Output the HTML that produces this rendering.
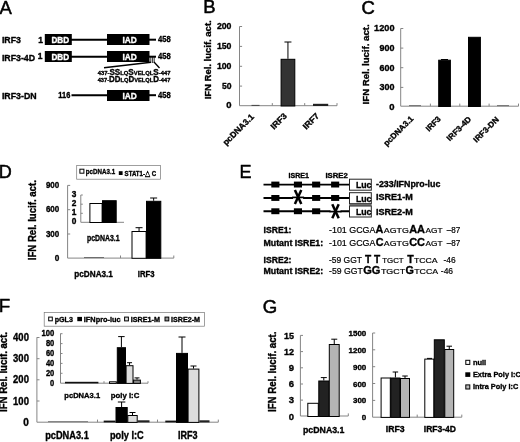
<!DOCTYPE html>
<html><head><meta charset="utf-8"><title>Figure</title>
<style>
html,body{margin:0;padding:0;background:#fff;}
body{width:520px;height:442px;overflow:hidden;}
text{stroke-width:0.35px;stroke-linejoin:round;}
svg{filter:blur(0.3px);display:block;font-family:"Liberation Sans","DejaVu Sans",sans-serif;}
</style></head><body>
<svg width="520" height="442" viewBox="0 0 520 442">
<rect x="0" y="0" width="520" height="442" fill="#fff"/>
<text x="-0.5" y="13.5" font-size="18.5" font-weight="normal" text-anchor="start" fill="#000" stroke="#000" style="stroke-width:0.5px">A</text>
<text x="203.2" y="12.6" font-size="18.5" font-weight="normal" text-anchor="start" fill="#000" stroke="#000" style="stroke-width:0.5px">B</text>
<text x="361.4" y="13.8" font-size="18.5" font-weight="normal" text-anchor="start" fill="#000" stroke="#000" style="stroke-width:0.5px">C</text>
<text x="-1.2" y="177.6" font-size="18" font-weight="normal" text-anchor="start" fill="#000" stroke="#000" style="stroke-width:0.5px">D</text>
<text x="239.6" y="177.5" font-size="18" font-weight="normal" text-anchor="start" fill="#000" stroke="#000" style="stroke-width:0.5px">E</text>
<text x="-1.3" y="312" font-size="18.8" font-weight="normal" text-anchor="start" fill="#000" stroke="#000" style="stroke-width:0.5px">F</text>
<text x="262.7" y="312.6" font-size="18.6" font-weight="normal" text-anchor="start" fill="#000" stroke="#000" style="stroke-width:0.5px">G</text>
<text x="1.9" y="43.2" font-size="9.4" font-weight="bold" text-anchor="start" fill="#000" stroke="#000" textLength="19" lengthAdjust="spacingAndGlyphs" >IRF3</text>
<text x="1.9" y="61" font-size="9.4" font-weight="bold" text-anchor="start" fill="#000" stroke="#000" textLength="33.2" lengthAdjust="spacingAndGlyphs" >IRF3-4D</text>
<text x="1.9" y="98.9" font-size="9.4" font-weight="bold" text-anchor="start" fill="#000" stroke="#000" textLength="34.7" lengthAdjust="spacingAndGlyphs" >IRF3-DN</text>
<text x="38.2" y="43" font-size="8.5" font-weight="bold" text-anchor="start" fill="#000" stroke="#000" >1</text>
<text x="37.8" y="58.6" font-size="8.5" font-weight="bold" text-anchor="start" fill="#000" stroke="#000" >1</text>
<line x1="71" y1="39.7" x2="108" y2="39.7" stroke="#000" stroke-width="2"/>
<rect x="44.8" y="34" width="27.0" height="11" fill="#000"/>
<text x="60.3" y="42.9" font-size="9" font-weight="bold" text-anchor="middle" fill="#fff" stroke="#fff" textLength="17.7" lengthAdjust="spacingAndGlyphs" >DBD</text>
<line x1="71" y1="56.7" x2="108" y2="56.7" stroke="#000" stroke-width="2"/>
<rect x="44.8" y="51" width="27.0" height="11" fill="#000"/>
<text x="60.3" y="59.9" font-size="9" font-weight="bold" text-anchor="middle" fill="#fff" stroke="#fff" textLength="17.7" lengthAdjust="spacingAndGlyphs" >DBD</text>
<rect x="107" y="34" width="42.5" height="11" fill="#000"/>
<text x="129.7" y="42.9" font-size="9" font-weight="bold" text-anchor="middle" fill="#fff" stroke="#fff" textLength="14.3" lengthAdjust="spacingAndGlyphs" >IAD</text>
<line x1="149" y1="39.7" x2="156" y2="39.7" stroke="#000" stroke-width="2"/>
<text x="158" y="41.6" font-size="8.7" font-weight="bold" text-anchor="start" fill="#000" stroke="#000" textLength="12.7" lengthAdjust="spacingAndGlyphs" >458</text>
<rect x="107" y="51" width="42.5" height="11" fill="#000"/>
<text x="129.7" y="59.9" font-size="9" font-weight="bold" text-anchor="middle" fill="#fff" stroke="#fff" textLength="14.3" lengthAdjust="spacingAndGlyphs" >IAD</text>
<line x1="149" y1="56.7" x2="156" y2="56.7" stroke="#000" stroke-width="2"/>
<text x="158" y="58.6" font-size="8.7" font-weight="bold" text-anchor="start" fill="#000" stroke="#000" textLength="12.7" lengthAdjust="spacingAndGlyphs" >458</text>
<rect x="107" y="90" width="42.5" height="11" fill="#000"/>
<text x="129.7" y="98.9" font-size="9" font-weight="bold" text-anchor="middle" fill="#fff" stroke="#fff" textLength="14.3" lengthAdjust="spacingAndGlyphs" >IAD</text>
<line x1="149" y1="95.2" x2="156" y2="95.2" stroke="#000" stroke-width="2"/>
<text x="158" y="97.6" font-size="8.7" font-weight="bold" text-anchor="start" fill="#000" stroke="#000" textLength="12.7" lengthAdjust="spacingAndGlyphs" >458</text>
<line x1="71.5" y1="95.2" x2="108" y2="95.2" stroke="#000" stroke-width="2"/>
<text x="58.3" y="98.3" font-size="8.5" font-weight="bold" text-anchor="start" fill="#000" stroke="#000" textLength="12" lengthAdjust="spacingAndGlyphs" >116</text>
<line x1="150.8" y1="57" x2="150.8" y2="63" stroke="#000" stroke-width="0.8"/>
<line x1="152.6" y1="57" x2="152.6" y2="63" stroke="#000" stroke-width="0.8"/>
<line x1="154.2" y1="57" x2="154.2" y2="63" stroke="#000" stroke-width="0.8"/>
<line x1="151" y1="62.2" x2="104" y2="67.8" stroke="#000" stroke-width="1.4"/>
<line x1="154" y1="62" x2="159.5" y2="68" stroke="#000" stroke-width="1.3"/>
<text x="97.7" y="74.6" stroke="#000" font-weight="bold" font-size="6.2" textLength="72.7" lengthAdjust="spacingAndGlyphs">437-<tspan font-size="8.6">SS</tspan>LQ<tspan font-size="8.6">S</tspan>VELQL<tspan font-size="8.6">S</tspan>-447</text>
<text x="97.7" y="82.1" stroke="#000" font-weight="bold" font-size="6.2" textLength="72.7" lengthAdjust="spacingAndGlyphs">437-<tspan font-size="8.6">DD</tspan>LQ<tspan font-size="8.6">D</tspan>VELQL<tspan font-size="8.6">D</tspan>-447</text>
<line x1="239.5" y1="26.5" x2="239.5" y2="105.7" stroke="#858585" stroke-width="1"/>
<line x1="239.5" y1="105.7" x2="337" y2="105.7" stroke="#858585" stroke-width="1"/>
<line x1="239.5" y1="26.5" x2="242.1" y2="26.5" stroke="#858585" stroke-width="1"/>
<line x1="239.5" y1="46.4" x2="242.1" y2="46.4" stroke="#858585" stroke-width="1"/>
<line x1="239.5" y1="66.3" x2="242.1" y2="66.3" stroke="#858585" stroke-width="1"/>
<line x1="239.5" y1="86.1" x2="242.1" y2="86.1" stroke="#858585" stroke-width="1"/>
<line x1="272.3" y1="105.7" x2="272.3" y2="103.10000000000001" stroke="#858585" stroke-width="1"/>
<line x1="304.7" y1="105.7" x2="304.7" y2="103.10000000000001" stroke="#858585" stroke-width="1"/>
<line x1="337" y1="105.7" x2="337" y2="103.10000000000001" stroke="#858585" stroke-width="1"/>
<text x="231.5" y="28.9" font-size="9.5" font-weight="bold" text-anchor="end" fill="#000" stroke="#000" textLength="14.6" lengthAdjust="spacingAndGlyphs" >200</text>
<text x="231.5" y="48.8" font-size="9.5" font-weight="bold" text-anchor="end" fill="#000" stroke="#000" textLength="14.6" lengthAdjust="spacingAndGlyphs" >150</text>
<text x="231.5" y="68.7" font-size="9.5" font-weight="bold" text-anchor="end" fill="#000" stroke="#000" textLength="14.6" lengthAdjust="spacingAndGlyphs" >100</text>
<text x="231.5" y="88.5" font-size="9.5" font-weight="bold" text-anchor="end" fill="#000" stroke="#000" textLength="9.6" lengthAdjust="spacingAndGlyphs" >50</text>
<text x="231.5" y="108.4" font-size="9.5" font-weight="bold" text-anchor="end" fill="#000" stroke="#000" >0</text>
<text x="211.2" y="59.8" font-size="9.7" font-weight="bold" text-anchor="middle" fill="#000" stroke="#000" textLength="79" lengthAdjust="spacingAndGlyphs" transform="rotate(-90 211.2 59.8)" >IFN Rel. lucif. act.</text>
<rect x="281.1" y="59.3" width="13.7" height="46.7" fill="#333" stroke="#000" stroke-width="1"/>
<line x1="287.95000000000005" y1="42" x2="287.95000000000005" y2="58.8" stroke="#000" stroke-width="1"/>
<line x1="284.45000000000005" y1="42" x2="291.45000000000005" y2="42" stroke="#000" stroke-width="1"/>
<rect x="313" y="103.8" width="15.2" height="2.2" fill="#222"/>
<line x1="251.5" y1="105.4" x2="259.5" y2="105.4" stroke="#444" stroke-width="1"/>
<text x="254.5" y="117.5" font-size="8.5" font-weight="bold" text-anchor="end" fill="#000" stroke="#000" textLength="40" lengthAdjust="spacingAndGlyphs" transform="rotate(-45 254.5 117.5)" >pcDNA3.1</text>
<text x="287.5" y="116.5" font-size="8.5" font-weight="bold" text-anchor="end" fill="#000" stroke="#000" textLength="19" lengthAdjust="spacingAndGlyphs" transform="rotate(-45 287.5 116.5)" >IRF3</text>
<text x="319.8" y="116.5" font-size="8.5" font-weight="bold" text-anchor="end" fill="#000" stroke="#000" textLength="19" lengthAdjust="spacingAndGlyphs" transform="rotate(-45 319.8 116.5)" >IRF7</text>
<line x1="400.7" y1="28.5" x2="400.7" y2="106.2" stroke="#858585" stroke-width="1"/>
<line x1="400.7" y1="106.2" x2="518.5" y2="106.2" stroke="#858585" stroke-width="1"/>
<line x1="400.7" y1="28.5" x2="403.3" y2="28.5" stroke="#858585" stroke-width="1"/>
<line x1="400.7" y1="48.1" x2="403.3" y2="48.1" stroke="#858585" stroke-width="1"/>
<line x1="400.7" y1="67.7" x2="403.3" y2="67.7" stroke="#858585" stroke-width="1"/>
<line x1="400.7" y1="87.4" x2="403.3" y2="87.4" stroke="#858585" stroke-width="1"/>
<line x1="430.4" y1="106.2" x2="430.4" y2="103.60000000000001" stroke="#858585" stroke-width="1"/>
<line x1="459.8" y1="106.2" x2="459.8" y2="103.60000000000001" stroke="#858585" stroke-width="1"/>
<line x1="489.1" y1="106.2" x2="489.1" y2="103.60000000000001" stroke="#858585" stroke-width="1"/>
<line x1="518.5" y1="106.2" x2="518.5" y2="103.60000000000001" stroke="#858585" stroke-width="1"/>
<text x="394.5" y="31.4" font-size="9.5" font-weight="bold" text-anchor="end" fill="#000" stroke="#000" textLength="20.4" lengthAdjust="spacingAndGlyphs" >1200</text>
<text x="394.5" y="51.0" font-size="9.5" font-weight="bold" text-anchor="end" fill="#000" stroke="#000" textLength="15" lengthAdjust="spacingAndGlyphs" >900</text>
<text x="394.5" y="70.60000000000001" font-size="9.5" font-weight="bold" text-anchor="end" fill="#000" stroke="#000" textLength="15" lengthAdjust="spacingAndGlyphs" >600</text>
<text x="394.5" y="90.30000000000001" font-size="9.5" font-weight="bold" text-anchor="end" fill="#000" stroke="#000" textLength="15" lengthAdjust="spacingAndGlyphs" >300</text>
<text x="394.5" y="109.9" font-size="9.5" font-weight="bold" text-anchor="end" fill="#000" stroke="#000" >0</text>
<text x="369" y="64.4" font-size="9.6" font-weight="bold" text-anchor="middle" fill="#000" stroke="#000" textLength="80" lengthAdjust="spacingAndGlyphs" transform="rotate(-90 369 64.4)" >IFN Rel. lucif. act.</text>
<rect x="438.7" y="60.2" width="11.7" height="46.3" fill="#000" stroke="#000" stroke-width="1"/>
<line x1="441" y1="59.5" x2="448" y2="59.5" stroke="#000" stroke-width="1"/>
<rect x="468.5" y="37.3" width="11.9" height="69.2" fill="#000" stroke="#000" stroke-width="1"/>
<line x1="409" y1="105.6" x2="421" y2="105.6" stroke="#555" stroke-width="0.8"/>
<line x1="497" y1="105.6" x2="509" y2="105.6" stroke="#555" stroke-width="0.8"/>
<text x="414" y="119.3" font-size="8" font-weight="bold" text-anchor="end" fill="#000" stroke="#000" textLength="38.5" lengthAdjust="spacingAndGlyphs" transform="rotate(-45 414 119.3)" >pcDNA3.1</text>
<text x="441.3" y="119.5" font-size="8" font-weight="bold" text-anchor="end" fill="#000" stroke="#000" textLength="17.5" lengthAdjust="spacingAndGlyphs" transform="rotate(-45 441.3 119.5)" >IRF3</text>
<text x="471.8" y="119.7" font-size="8" font-weight="bold" text-anchor="end" fill="#000" stroke="#000" textLength="31" lengthAdjust="spacingAndGlyphs" transform="rotate(-45 471.8 119.7)" >IRF3-4D</text>
<text x="499.5" y="120" font-size="8" font-weight="bold" text-anchor="end" fill="#000" stroke="#000" textLength="32.5" lengthAdjust="spacingAndGlyphs" transform="rotate(-45 499.5 120)" >IRF3-DN</text>
<line x1="67.6" y1="185.4" x2="67.6" y2="258.1" stroke="#858585" stroke-width="1"/>
<line x1="67.6" y1="258.1" x2="173.8" y2="258.1" stroke="#858585" stroke-width="1"/>
<line x1="67.6" y1="185.4" x2="70.19999999999999" y2="185.4" stroke="#858585" stroke-width="1"/>
<line x1="67.6" y1="209.7" x2="70.19999999999999" y2="209.7" stroke="#858585" stroke-width="1"/>
<line x1="67.6" y1="234" x2="70.19999999999999" y2="234" stroke="#858585" stroke-width="1"/>
<line x1="120.5" y1="258.1" x2="120.5" y2="255.50000000000003" stroke="#858585" stroke-width="1"/>
<line x1="173.8" y1="258.1" x2="173.8" y2="255.50000000000003" stroke="#858585" stroke-width="1"/>
<text x="59.3" y="188.1" font-size="9.2" font-weight="bold" text-anchor="end" fill="#000" stroke="#000" textLength="13.4" lengthAdjust="spacingAndGlyphs" >900</text>
<text x="59.3" y="212.39999999999998" font-size="9.2" font-weight="bold" text-anchor="end" fill="#000" stroke="#000" textLength="13.4" lengthAdjust="spacingAndGlyphs" >600</text>
<text x="59.3" y="236.7" font-size="9.2" font-weight="bold" text-anchor="end" fill="#000" stroke="#000" textLength="13.4" lengthAdjust="spacingAndGlyphs" >300</text>
<text x="59.3" y="261.0" font-size="9.2" font-weight="bold" text-anchor="end" fill="#000" stroke="#000" textLength="4.6" lengthAdjust="spacingAndGlyphs" >0</text>
<text x="36" y="220.2" font-size="10.3" font-weight="bold" text-anchor="middle" fill="#000" stroke="#000" textLength="80" lengthAdjust="spacingAndGlyphs" transform="rotate(-90 36 220.2)" >IFN Rel. lucif. act.</text>
<rect x="76.7" y="165.4" width="83.7" height="13.8" fill="#fff" stroke="#777" stroke-width="0.7"/>
<rect x="79.9" y="169.2" width="4.0" height="4.0" fill="#fff" stroke="#000" stroke-width="1"/>
<text x="85.8" y="173.9" font-size="7.8" font-weight="bold" text-anchor="start" fill="#000" stroke="#000" textLength="29.3" lengthAdjust="spacingAndGlyphs" >pcDNA3.1</text>
<rect x="118.8" y="171.2" width="3.8" height="3.8" fill="#000"/>
<text x="124.6" y="176.4" stroke="#000" font-weight="bold" font-size="7.2" textLength="31.6" lengthAdjust="spacingAndGlyphs">STAT1-<tspan font-weight="normal" font-size="8">△</tspan> C</text>
<line x1="80.8" y1="195" x2="80.8" y2="222.3" stroke="#858585" stroke-width="1"/>
<line x1="80.8" y1="222.3" x2="124" y2="222.3" stroke="#858585" stroke-width="1"/>
<line x1="80.8" y1="195" x2="82.8" y2="195" stroke="#858585" stroke-width="1"/>
<line x1="80.8" y1="204.2" x2="82.8" y2="204.2" stroke="#858585" stroke-width="1"/>
<line x1="80.8" y1="213.3" x2="82.8" y2="213.3" stroke="#858585" stroke-width="1"/>
<text x="76.3" y="196.6" font-size="8.3" font-weight="bold" text-anchor="end" fill="#000" stroke="#000" >3</text>
<text x="76.3" y="205.79999999999998" font-size="8.3" font-weight="bold" text-anchor="end" fill="#000" stroke="#000" >2</text>
<text x="76.3" y="214.9" font-size="8.3" font-weight="bold" text-anchor="end" fill="#000" stroke="#000" >1</text>
<text x="76.3" y="224.1" font-size="8.3" font-weight="bold" text-anchor="end" fill="#000" stroke="#000" >0</text>
<rect x="89.9" y="203.5" width="12.2" height="19.0" fill="#fff" stroke="#000" stroke-width="1"/>
<rect x="102.5" y="200.7" width="13.7" height="21.8" fill="#000" stroke="#000" stroke-width="1"/>
<text x="87" y="240.9" font-size="8.3" font-weight="bold" text-anchor="start" fill="#000" stroke="#000" textLength="32.6" lengthAdjust="spacingAndGlyphs" >pcDNA3.1</text>
<rect x="132.0" y="231.5" width="14.1" height="26.8" fill="#fff" stroke="#000" stroke-width="1"/>
<line x1="139.05" y1="227.7" x2="139.05" y2="231" stroke="#000" stroke-width="1"/>
<line x1="135.55" y1="227.7" x2="142.55" y2="227.7" stroke="#000" stroke-width="1"/>
<rect x="146.5" y="201.3" width="14.3" height="57.0" fill="#000" stroke="#000" stroke-width="1"/>
<line x1="153.65" y1="198" x2="153.65" y2="200.8" stroke="#000" stroke-width="1"/>
<line x1="150.15" y1="198" x2="157.15" y2="198" stroke="#000" stroke-width="1"/>
<text x="74.3" y="276.8" font-size="9.2" font-weight="bold" text-anchor="start" fill="#000" stroke="#000" textLength="38.6" lengthAdjust="spacingAndGlyphs" >pcDNA3.1</text>
<line x1="84" y1="257.5" x2="104" y2="257.5" stroke="#555" stroke-width="0.8"/>
<text x="137.8" y="276.8" font-size="9.2" font-weight="bold" text-anchor="start" fill="#000" stroke="#000" textLength="16.7" lengthAdjust="spacingAndGlyphs" >IRF3</text>
<text x="288.5" y="178.3" font-size="7.5" font-weight="bold" text-anchor="start" fill="#000" stroke="#000" textLength="20.5" lengthAdjust="spacingAndGlyphs" >ISRE1</text>
<text x="325.4" y="177.8" font-size="7.5" font-weight="bold" text-anchor="start" fill="#000" stroke="#000" textLength="22.5" lengthAdjust="spacingAndGlyphs" >ISRE2</text>
<line x1="263.5" y1="184.6" x2="349.5" y2="184.6" stroke="#000" stroke-width="1.9"/>
<rect x="271.3" y="181.6" width="8.1" height="5.9" fill="#000"/>
<rect x="293.9" y="181.6" width="8.1" height="5.9" fill="#000"/>
<rect x="312.1" y="181.6" width="8.1" height="5.9" fill="#000"/>
<rect x="331.1" y="181.6" width="8.1" height="5.9" fill="#000"/>
<rect x="349.5" y="179.2" width="21.8" height="11.0" fill="#fff" stroke="#222" stroke-width="1"/>
<text x="371.4" y="188.0" font-size="9.5" font-weight="bold" text-anchor="end" fill="#000" stroke="#000" textLength="15.5" lengthAdjust="spacingAndGlyphs" >Luc</text>
<line x1="263.5" y1="198" x2="349.5" y2="198" stroke="#000" stroke-width="1.9"/>
<rect x="271.3" y="195" width="8.1" height="5.9" fill="#000"/>
<rect x="293.9" y="195" width="8.1" height="5.9" fill="#000"/>
<rect x="312.1" y="195" width="8.1" height="5.9" fill="#000"/>
<rect x="331.1" y="195" width="8.1" height="5.9" fill="#000"/>
<rect x="349.2" y="203.6" width="22.4" height="2.3" fill="#808080"/>
<rect x="349.5" y="192.7" width="21.8" height="11.0" fill="#fff" stroke="#222" stroke-width="1"/>
<text x="371.4" y="201.5" font-size="9.5" font-weight="bold" text-anchor="end" fill="#000" stroke="#000" textLength="15.5" lengthAdjust="spacingAndGlyphs" >Luc</text>
<line x1="263.5" y1="211.3" x2="349.5" y2="211.3" stroke="#000" stroke-width="1.9"/>
<rect x="271.3" y="208.3" width="8.1" height="5.9" fill="#000"/>
<rect x="293.9" y="208.3" width="8.1" height="5.9" fill="#000"/>
<rect x="312.1" y="208.3" width="8.1" height="5.9" fill="#000"/>
<rect x="331.1" y="208.3" width="8.1" height="5.9" fill="#000"/>
<rect x="349.5" y="206" width="21.8" height="11" fill="#fff" stroke="#222" stroke-width="1"/>
<text x="371.4" y="214.8" font-size="9.5" font-weight="bold" text-anchor="end" fill="#000" stroke="#000" textLength="15.5" lengthAdjust="spacingAndGlyphs" >Luc</text>
<rect x="293.1" y="193" width="10" height="8" fill="#fff"/>
<line x1="292.1" y1="197.4" x2="304.1" y2="197.4" stroke="#000" stroke-width="1.7"/>
<g stroke="#000" stroke-width="2.5" fill="none" stroke-linecap="butt"><line x1="294.90000000000003" y1="190" x2="301.3" y2="204"/><line x1="301.3" y1="190" x2="294.90000000000003" y2="204"/></g>
<rect x="330.5" y="207.2" width="10" height="8" fill="#fff"/>
<line x1="329.5" y1="211.6" x2="341.5" y2="211.6" stroke="#000" stroke-width="1.7"/>
<g stroke="#000" stroke-width="2.5" fill="none" stroke-linecap="butt"><line x1="332.3" y1="204.2" x2="338.7" y2="218.2"/><line x1="338.7" y1="204.2" x2="332.3" y2="218.2"/></g>
<text x="376" y="186.6" font-size="9" font-weight="bold" text-anchor="start" fill="#000" stroke="#000" textLength="64.4" lengthAdjust="spacingAndGlyphs" >-233/IFNpro-luc</text>
<text x="376" y="200.2" font-size="9" font-weight="bold" text-anchor="start" fill="#000" stroke="#000" textLength="36.7" lengthAdjust="spacingAndGlyphs" >ISRE1-M</text>
<text x="376" y="215.2" font-size="9" font-weight="bold" text-anchor="start" fill="#000" stroke="#000" textLength="36.7" lengthAdjust="spacingAndGlyphs" >ISRE2-M</text>
<text x="263.5" y="233" font-size="9" font-weight="bold" text-anchor="start" fill="#000" stroke="#000" textLength="27.9" lengthAdjust="spacingAndGlyphs" >ISRE1:</text>
<text x="263.5" y="245.7" font-size="9" font-weight="bold" text-anchor="start" fill="#000" stroke="#000" textLength="59.6" lengthAdjust="spacingAndGlyphs" >Mutant ISRE1:</text>
<text x="263.5" y="263.2" font-size="9" font-weight="bold" text-anchor="start" fill="#000" stroke="#000" textLength="27.9" lengthAdjust="spacingAndGlyphs" >ISRE2:</text>
<text x="263.5" y="273.8" font-size="9" font-weight="bold" text-anchor="start" fill="#000" stroke="#000" textLength="59.6" lengthAdjust="spacingAndGlyphs" >Mutant ISRE2:</text>
<text x="329" y="233" font-size="8.6" font-weight="normal" text-anchor="start" fill="#000" stroke="#000" textLength="46.4" lengthAdjust="spacingAndGlyphs" style="stroke-width:0.2px">-101 GCGA</text>
<text x="375.6" y="233" font-size="11.3" font-weight="bold" text-anchor="start" fill="#000" stroke="#000" textLength="7.8" lengthAdjust="spacingAndGlyphs" >A</text>
<text x="383.8" y="233" font-size="8" font-weight="normal" text-anchor="start" fill="#000" stroke="#000" textLength="25" lengthAdjust="spacingAndGlyphs" style="stroke-width:0.2px">AGTG</text>
<text x="409.2" y="233" font-size="11.3" font-weight="bold" text-anchor="start" fill="#000" stroke="#000" textLength="15.8" lengthAdjust="spacingAndGlyphs" >AA</text>
<text x="425.6" y="233" font-size="8" font-weight="normal" text-anchor="start" fill="#000" stroke="#000" textLength="17" lengthAdjust="spacingAndGlyphs" style="stroke-width:0.2px">AGT</text>
<text x="446.8" y="233" font-size="8.6" font-weight="normal" text-anchor="start" fill="#000" stroke="#000" textLength="13.5" lengthAdjust="spacingAndGlyphs" style="stroke-width:0.2px">–87</text>
<text x="329" y="245.7" font-size="8.6" font-weight="normal" text-anchor="start" fill="#000" stroke="#000" textLength="46.4" lengthAdjust="spacingAndGlyphs" style="stroke-width:0.2px">-101 GCGA</text>
<text x="375.8" y="245.7" font-size="11.3" font-weight="bold" text-anchor="start" fill="#000" stroke="#000" textLength="7.8" lengthAdjust="spacingAndGlyphs" >C</text>
<text x="383.8" y="245.7" font-size="8" font-weight="normal" text-anchor="start" fill="#000" stroke="#000" textLength="25" lengthAdjust="spacingAndGlyphs" style="stroke-width:0.2px">AGTG</text>
<text x="409.2" y="245.7" font-size="11.3" font-weight="bold" text-anchor="start" fill="#000" stroke="#000" textLength="15.8" lengthAdjust="spacingAndGlyphs" >CC</text>
<text x="425.6" y="245.7" font-size="8" font-weight="normal" text-anchor="start" fill="#000" stroke="#000" textLength="17" lengthAdjust="spacingAndGlyphs" style="stroke-width:0.2px">AGT</text>
<text x="446.8" y="245.7" font-size="8.6" font-weight="normal" text-anchor="start" fill="#000" stroke="#000" textLength="13.5" lengthAdjust="spacingAndGlyphs" style="stroke-width:0.2px">–87</text>
<text x="329" y="263" font-size="8.6" font-weight="normal" text-anchor="start" fill="#000" stroke="#000" textLength="33" lengthAdjust="spacingAndGlyphs" style="stroke-width:0.2px">-59 GGT</text>
<text x="364.9" y="263" font-size="11.3" font-weight="bold" text-anchor="start" fill="#000" stroke="#000" textLength="15.2" lengthAdjust="spacingAndGlyphs" >T T</text>
<text x="382.2" y="263" font-size="8" font-weight="normal" text-anchor="start" fill="#000" stroke="#000" textLength="21.5" lengthAdjust="spacingAndGlyphs" style="stroke-width:0.2px">TGCT</text>
<text x="407.2" y="263" font-size="11.3" font-weight="bold" text-anchor="start" fill="#000" stroke="#000" textLength="6.5" lengthAdjust="spacingAndGlyphs" >T</text>
<text x="413.9" y="263" font-size="8" font-weight="normal" text-anchor="start" fill="#000" stroke="#000" textLength="23.8" lengthAdjust="spacingAndGlyphs" style="stroke-width:0.2px">TCCA</text>
<text x="443.5" y="263" font-size="8.6" font-weight="normal" text-anchor="start" fill="#000" stroke="#000" textLength="12.1" lengthAdjust="spacingAndGlyphs" style="stroke-width:0.2px">-46</text>
<text x="329" y="273.5" font-size="8.6" font-weight="normal" text-anchor="start" fill="#000" stroke="#000" textLength="33.7" lengthAdjust="spacingAndGlyphs" style="stroke-width:0.2px">-59 GGT</text>
<text x="363.2" y="273.5" font-size="11.3" font-weight="bold" text-anchor="start" fill="#000" stroke="#000" textLength="17.2" lengthAdjust="spacingAndGlyphs" >GG</text>
<text x="380.9" y="273.5" font-size="8" font-weight="normal" text-anchor="start" fill="#000" stroke="#000" textLength="24.2" lengthAdjust="spacingAndGlyphs" style="stroke-width:0.2px">TGCT</text>
<text x="405.6" y="273.5" font-size="11.3" font-weight="bold" text-anchor="start" fill="#000" stroke="#000" textLength="8.4" lengthAdjust="spacingAndGlyphs" >G</text>
<text x="414.2" y="273.5" font-size="8" font-weight="normal" text-anchor="start" fill="#000" stroke="#000" textLength="24" lengthAdjust="spacingAndGlyphs" style="stroke-width:0.2px">TCCA</text>
<text x="440.8" y="273.5" font-size="8.6" font-weight="normal" text-anchor="start" fill="#000" stroke="#000" textLength="12.3" lengthAdjust="spacingAndGlyphs" style="stroke-width:0.2px">-46</text>
<line x1="36.9" y1="337.3" x2="36.9" y2="422.2" stroke="#858585" stroke-width="1"/>
<line x1="36.9" y1="422.2" x2="218.3" y2="422.2" stroke="#858585" stroke-width="1"/>
<line x1="36.9" y1="337.5" x2="39.5" y2="337.5" stroke="#858585" stroke-width="1"/>
<line x1="36.9" y1="358.7" x2="39.5" y2="358.7" stroke="#858585" stroke-width="1"/>
<line x1="36.9" y1="379.8" x2="39.5" y2="379.8" stroke="#858585" stroke-width="1"/>
<line x1="36.9" y1="401" x2="39.5" y2="401" stroke="#858585" stroke-width="1"/>
<line x1="97.5" y1="422.2" x2="97.5" y2="419.59999999999997" stroke="#858585" stroke-width="1"/>
<line x1="157.5" y1="422.2" x2="157.5" y2="419.59999999999997" stroke="#858585" stroke-width="1"/>
<line x1="218.3" y1="422.2" x2="218.3" y2="419.59999999999997" stroke="#858585" stroke-width="1"/>
<text x="28.9" y="341.1" font-size="10" font-weight="bold" text-anchor="end" fill="#000" stroke="#000" textLength="15.8" lengthAdjust="spacingAndGlyphs" >400</text>
<text x="28.9" y="362.3" font-size="10" font-weight="bold" text-anchor="end" fill="#000" stroke="#000" textLength="15.8" lengthAdjust="spacingAndGlyphs" >300</text>
<text x="28.9" y="383.40000000000003" font-size="10" font-weight="bold" text-anchor="end" fill="#000" stroke="#000" textLength="15.8" lengthAdjust="spacingAndGlyphs" >200</text>
<text x="28.9" y="404.6" font-size="10" font-weight="bold" text-anchor="end" fill="#000" stroke="#000" textLength="15.8" lengthAdjust="spacingAndGlyphs" >100</text>
<text x="28.9" y="425.8" font-size="10" font-weight="bold" text-anchor="end" fill="#000" stroke="#000" >0</text>
<text x="7.3" y="372" font-size="10.2" font-weight="bold" text-anchor="middle" fill="#000" stroke="#000" textLength="80" lengthAdjust="spacingAndGlyphs" transform="rotate(-90 7.3 372)" >IFN Rel. lucif. act.</text>
<rect x="44.2" y="312.5" width="160.2" height="13.7" fill="#fff" stroke="#777" stroke-width="0.7"/>
<rect x="48.7" y="317.1" width="3.6" height="3.7" fill="#fff" stroke="#000" stroke-width="1"/>
<text x="54.7" y="321.6" font-size="7.5" font-weight="bold" text-anchor="start" fill="#000" stroke="#000" textLength="18.2" lengthAdjust="spacingAndGlyphs" >pGL3</text>
<rect x="77.3" y="316.9" width="4.7" height="4.3" fill="#000"/>
<text x="83.8" y="321.6" font-size="7.5" font-weight="bold" text-anchor="start" fill="#000" stroke="#000" textLength="36.8" lengthAdjust="spacingAndGlyphs" >IFNpro-luc</text>
<rect x="124.6" y="317.1" width="3.8" height="3.8" fill="#ddd" stroke="#000" stroke-width="1"/>
<text x="130.7" y="321.6" font-size="7.5" font-weight="bold" text-anchor="start" fill="#000" stroke="#000" textLength="29.2" lengthAdjust="spacingAndGlyphs" >ISRE1-M</text>
<rect x="165" y="317.1" width="3.8" height="3.8" fill="#999" stroke="#000" stroke-width="1"/>
<text x="171" y="321.6" font-size="7.5" font-weight="bold" text-anchor="start" fill="#000" stroke="#000" textLength="29" lengthAdjust="spacingAndGlyphs" >ISRE2-M</text>
<line x1="60.5" y1="333.5" x2="60.5" y2="383.2" stroke="#858585" stroke-width="1"/>
<line x1="60.5" y1="383.2" x2="148" y2="383.2" stroke="#858585" stroke-width="1"/>
<line x1="60.5" y1="333.7" x2="62.5" y2="333.7" stroke="#858585" stroke-width="1"/>
<line x1="60.5" y1="343.6" x2="62.5" y2="343.6" stroke="#858585" stroke-width="1"/>
<line x1="60.5" y1="353.5" x2="62.5" y2="353.5" stroke="#858585" stroke-width="1"/>
<line x1="60.5" y1="363.4" x2="62.5" y2="363.4" stroke="#858585" stroke-width="1"/>
<line x1="60.5" y1="373.3" x2="62.5" y2="373.3" stroke="#858585" stroke-width="1"/>
<line x1="104" y1="383.2" x2="104" y2="381.2" stroke="#858585" stroke-width="1"/>
<line x1="148" y1="383.2" x2="148" y2="381.2" stroke="#858585" stroke-width="1"/>
<text x="54.3" y="336.2" font-size="8.5" font-weight="bold" text-anchor="end" fill="#000" stroke="#000" textLength="12.8" lengthAdjust="spacingAndGlyphs" >100</text>
<text x="54.3" y="346.1" font-size="8.5" font-weight="bold" text-anchor="end" fill="#000" stroke="#000" textLength="8.4" lengthAdjust="spacingAndGlyphs" >80</text>
<text x="54.3" y="356.0" font-size="8.5" font-weight="bold" text-anchor="end" fill="#000" stroke="#000" textLength="8.4" lengthAdjust="spacingAndGlyphs" >60</text>
<text x="54.3" y="365.9" font-size="8.5" font-weight="bold" text-anchor="end" fill="#000" stroke="#000" textLength="8.4" lengthAdjust="spacingAndGlyphs" >40</text>
<text x="54.3" y="375.8" font-size="8.5" font-weight="bold" text-anchor="end" fill="#000" stroke="#000" textLength="8.4" lengthAdjust="spacingAndGlyphs" >20</text>
<text x="54.3" y="385.7" font-size="8.5" font-weight="bold" text-anchor="end" fill="#000" stroke="#000" textLength="4.2" lengthAdjust="spacingAndGlyphs" >0</text>
<rect x="65" y="381.8" width="33.4" height="1.6" fill="#111"/>
<rect x="109.5" y="381.8" width="6.8" height="1.6" fill="#fff" stroke="#000" stroke-width="1"/>
<rect x="117.3" y="347.7" width="8.2" height="35.7" fill="#000" stroke="#000" stroke-width="1"/>
<line x1="121.4" y1="336.6" x2="121.4" y2="347.2" stroke="#000" stroke-width="1"/>
<line x1="118.15" y1="336.6" x2="124.65" y2="336.6" stroke="#000" stroke-width="1"/>
<rect x="126.1" y="365.7" width="6.9" height="17.7" fill="#ddd" stroke="#000" stroke-width="1"/>
<line x1="129.55" y1="362.7" x2="129.55" y2="365.2" stroke="#000" stroke-width="1"/>
<line x1="127.05000000000001" y1="362.7" x2="132.05" y2="362.7" stroke="#000" stroke-width="1"/>
<rect x="133.6" y="380.1" width="6.8" height="3.3" fill="#888" stroke="#000" stroke-width="1"/>
<line x1="137.0" y1="377.9" x2="137.0" y2="379.6" stroke="#000" stroke-width="1"/>
<line x1="134.5" y1="377.9" x2="139.5" y2="377.9" stroke="#000" stroke-width="1"/>
<text x="64.3" y="397.8" font-size="8" font-weight="bold" text-anchor="start" fill="#000" stroke="#000" textLength="35.8" lengthAdjust="spacingAndGlyphs" >pcDNA3.1</text>
<text x="110.8" y="397.8" font-size="8" font-weight="bold" text-anchor="start" fill="#000" stroke="#000" textLength="28.5" lengthAdjust="spacingAndGlyphs" >poly I:C</text>
<line x1="48" y1="421.6" x2="88" y2="421.6" stroke="#666" stroke-width="0.8"/>
<rect x="103.7" y="420.6" width="11.8" height="1.8" fill="#111"/>
<rect x="116.0" y="407.5" width="11.2" height="14.9" fill="#000" stroke="#000" stroke-width="1"/>
<line x1="121.6" y1="402" x2="121.6" y2="407" stroke="#000" stroke-width="1"/>
<line x1="117.85" y1="402" x2="125.35" y2="402" stroke="#000" stroke-width="1"/>
<rect x="127.8" y="415.5" width="9.4" height="6.9" fill="#ddd" stroke="#000" stroke-width="1"/>
<line x1="132.5" y1="412.5" x2="132.5" y2="415" stroke="#000" stroke-width="1"/>
<line x1="129.5" y1="412.5" x2="135.5" y2="412.5" stroke="#000" stroke-width="1"/>
<rect x="137.5" y="420.3" width="12.0" height="2.1" fill="#222"/>
<rect x="165.3" y="420.6" width="10.9" height="1.8" fill="#111"/>
<rect x="176.5" y="353.4" width="11.0" height="69.0" fill="#000" stroke="#000" stroke-width="1"/>
<line x1="182.0" y1="337" x2="182.0" y2="352.9" stroke="#000" stroke-width="1"/>
<line x1="178.5" y1="337" x2="185.5" y2="337" stroke="#000" stroke-width="1"/>
<rect x="188.1" y="369.1" width="10.8" height="53.3" fill="#ddd" stroke="#000" stroke-width="1"/>
<line x1="193.5" y1="366" x2="193.5" y2="368.6" stroke="#000" stroke-width="1"/>
<line x1="190.5" y1="366" x2="196.5" y2="366" stroke="#000" stroke-width="1"/>
<rect x="199.4" y="420.3" width="10.1" height="2.1" fill="#222"/>
<text x="45.2" y="439.4" font-size="10" font-weight="bold" text-anchor="start" fill="#000" stroke="#000" textLength="43.6" lengthAdjust="spacingAndGlyphs" >pcDNA3.1</text>
<text x="110" y="439.4" font-size="10" font-weight="bold" text-anchor="start" fill="#000" stroke="#000" textLength="33.7" lengthAdjust="spacingAndGlyphs" >poly I:C</text>
<text x="178" y="439.4" font-size="10" font-weight="bold" text-anchor="start" fill="#000" stroke="#000" textLength="19.5" lengthAdjust="spacingAndGlyphs" >IRF3</text>
<line x1="300.4" y1="335.4" x2="300.4" y2="416" stroke="#858585" stroke-width="1"/>
<line x1="300.4" y1="416" x2="348.3" y2="416" stroke="#858585" stroke-width="1"/>
<line x1="300.4" y1="335.4" x2="303.0" y2="335.4" stroke="#858585" stroke-width="1"/>
<line x1="300.4" y1="351.6" x2="303.0" y2="351.6" stroke="#858585" stroke-width="1"/>
<line x1="300.4" y1="367.8" x2="303.0" y2="367.8" stroke="#858585" stroke-width="1"/>
<line x1="300.4" y1="384" x2="303.0" y2="384" stroke="#858585" stroke-width="1"/>
<line x1="300.4" y1="400.1" x2="303.0" y2="400.1" stroke="#858585" stroke-width="1"/>
<line x1="348.3" y1="416" x2="348.3" y2="413.4" stroke="#858585" stroke-width="1"/>
<text x="294" y="338.59999999999997" font-size="9.5" font-weight="bold" text-anchor="end" fill="#000" stroke="#000" textLength="10" lengthAdjust="spacingAndGlyphs" >15</text>
<text x="294" y="354.8" font-size="9.5" font-weight="bold" text-anchor="end" fill="#000" stroke="#000" textLength="10" lengthAdjust="spacingAndGlyphs" >12</text>
<text x="294" y="371.0" font-size="9.5" font-weight="bold" text-anchor="end" fill="#000" stroke="#000" >9</text>
<text x="294" y="387.2" font-size="9.5" font-weight="bold" text-anchor="end" fill="#000" stroke="#000" >6</text>
<text x="294" y="403.3" font-size="9.5" font-weight="bold" text-anchor="end" fill="#000" stroke="#000" >3</text>
<text x="294" y="419.5" font-size="9.5" font-weight="bold" text-anchor="end" fill="#000" stroke="#000" >0</text>
<text x="276" y="371.8" font-size="10.2" font-weight="bold" text-anchor="middle" fill="#000" stroke="#000" textLength="80.5" lengthAdjust="spacingAndGlyphs" transform="rotate(-90 276 371.8)" >IFN Rel. lucif. act.</text>
<rect x="307.8" y="403.3" width="10.5" height="13.2" fill="#fff" stroke="#000" stroke-width="1"/>
<rect x="318.8" y="381.0" width="10.0" height="35.5" fill="#222" stroke="#000" stroke-width="1"/>
<line x1="323.8" y1="377.6" x2="323.8" y2="380.5" stroke="#000" stroke-width="1"/>
<line x1="320.8" y1="377.6" x2="326.8" y2="377.6" stroke="#000" stroke-width="1"/>
<rect x="329.3" y="344.5" width="9.9" height="72.0" fill="#b4b4b4" stroke="#000" stroke-width="1"/>
<line x1="334.25" y1="339.2" x2="334.25" y2="344" stroke="#000" stroke-width="1"/>
<line x1="331.25" y1="339.2" x2="337.25" y2="339.2" stroke="#000" stroke-width="1"/>
<text x="303" y="433" font-size="9.5" font-weight="bold" text-anchor="start" fill="#000" stroke="#000" textLength="41.4" lengthAdjust="spacingAndGlyphs" >pcDNA3.1</text>
<line x1="372.6" y1="333" x2="372.6" y2="417.2" stroke="#858585" stroke-width="1"/>
<line x1="372.6" y1="417.2" x2="461.8" y2="417.2" stroke="#858585" stroke-width="1"/>
<line x1="372.6" y1="333" x2="375.20000000000005" y2="333" stroke="#858585" stroke-width="1"/>
<line x1="372.6" y1="349.8" x2="375.20000000000005" y2="349.8" stroke="#858585" stroke-width="1"/>
<line x1="372.6" y1="366.7" x2="375.20000000000005" y2="366.7" stroke="#858585" stroke-width="1"/>
<line x1="372.6" y1="383.5" x2="375.20000000000005" y2="383.5" stroke="#858585" stroke-width="1"/>
<line x1="372.6" y1="400.4" x2="375.20000000000005" y2="400.4" stroke="#858585" stroke-width="1"/>
<line x1="417.2" y1="417.2" x2="417.2" y2="414.59999999999997" stroke="#858585" stroke-width="1"/>
<line x1="461.8" y1="417.2" x2="461.8" y2="414.59999999999997" stroke="#858585" stroke-width="1"/>
<text x="366.3" y="336" font-size="8" font-weight="bold" text-anchor="end" fill="#000" stroke="#000" >1500</text>
<text x="366.3" y="352.8" font-size="8" font-weight="bold" text-anchor="end" fill="#000" stroke="#000" >1200</text>
<text x="366.3" y="369.7" font-size="8" font-weight="bold" text-anchor="end" fill="#000" stroke="#000" >900</text>
<text x="366.3" y="386.5" font-size="8" font-weight="bold" text-anchor="end" fill="#000" stroke="#000" >600</text>
<text x="366.3" y="403.4" font-size="8" font-weight="bold" text-anchor="end" fill="#000" stroke="#000" >300</text>
<text x="366.3" y="420.2" font-size="8" font-weight="bold" text-anchor="end" fill="#000" stroke="#000" >0</text>
<rect x="381.1" y="378.0" width="9.2" height="39.4" fill="#fff" stroke="#000" stroke-width="1"/>
<rect x="390.8" y="378.0" width="9.2" height="39.4" fill="#222" stroke="#000" stroke-width="1"/>
<line x1="395.4" y1="372" x2="395.4" y2="377.5" stroke="#000" stroke-width="1"/>
<line x1="392.65" y1="372" x2="398.15" y2="372" stroke="#000" stroke-width="1"/>
<rect x="400.5" y="378.5" width="9.0" height="38.9" fill="#b4b4b4" stroke="#000" stroke-width="1"/>
<line x1="405.0" y1="376" x2="405.0" y2="378" stroke="#000" stroke-width="1"/>
<line x1="402.25" y1="376" x2="407.75" y2="376" stroke="#000" stroke-width="1"/>
<rect x="424.8" y="359.1" width="9.0" height="58.3" fill="#fff" stroke="#000" stroke-width="1"/>
<line x1="427" y1="358.4" x2="432" y2="358.4" stroke="#000" stroke-width="1"/>
<rect x="434.3" y="339.8" width="10.0" height="77.6" fill="#222" stroke="#000" stroke-width="1"/>
<rect x="444.8" y="349.5" width="8.9" height="67.9" fill="#b4b4b4" stroke="#000" stroke-width="1"/>
<line x1="449.25" y1="346.2" x2="449.25" y2="349" stroke="#000" stroke-width="1"/>
<line x1="446.5" y1="346.2" x2="452.0" y2="346.2" stroke="#000" stroke-width="1"/>
<text x="385.8" y="432.1" font-size="8.8" font-weight="bold" text-anchor="start" fill="#000" stroke="#000" textLength="18.8" lengthAdjust="spacingAndGlyphs" >IRF3</text>
<text x="423.8" y="432.2" font-size="8.8" font-weight="bold" text-anchor="start" fill="#000" stroke="#000" textLength="32.2" lengthAdjust="spacingAndGlyphs" >IRF3-4D</text>
<rect x="465.8" y="360.3" width="4.0" height="4.1" fill="#fff" stroke="#000" stroke-width="1"/>
<text x="472.9" y="364.8" font-size="7.8" font-weight="bold" text-anchor="start" fill="#000" stroke="#000" textLength="13.3" lengthAdjust="spacingAndGlyphs" >null</text>
<rect x="465.3" y="372.3" width="5.0" height="4.6" fill="#000"/>
<text x="472.9" y="377" font-size="7.8" font-weight="bold" text-anchor="start" fill="#000" stroke="#000" textLength="48" lengthAdjust="spacingAndGlyphs" >Extra Poly I:C</text>
<rect x="465.8" y="384.9" width="4.0" height="4.1" fill="#bbb" stroke="#000" stroke-width="1"/>
<text x="472.9" y="389.1" font-size="7.8" font-weight="bold" text-anchor="start" fill="#000" stroke="#000" textLength="45.3" lengthAdjust="spacingAndGlyphs" >Intra Poly I:C</text>
</svg>
</body></html>
